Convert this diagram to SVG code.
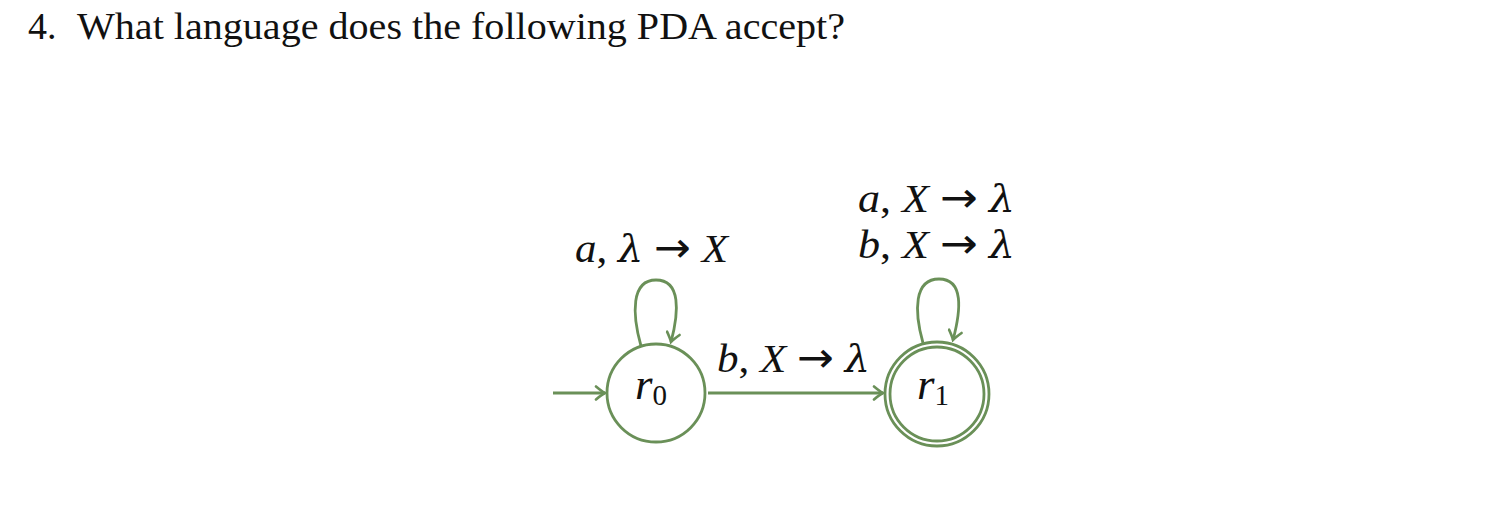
<svg xmlns="http://www.w3.org/2000/svg" width="1487" height="505" viewBox="0 0 1487 505">
<style>
.title{font-family:"Liberation Serif","Times New Roman",serif;font-size:38px;fill:#111}
.lbl{font-family:"Liberation Serif","DejaVu Serif",serif;font-size:41px;fill:#111}
.it{font-style:italic}
.ar{font-family:"DejaVu Sans",sans-serif;font-size:42px;font-style:normal}
.lam{font-family:"DejaVu Serif",serif;font-style:italic;font-size:38px}
.st{fill:#fff;stroke:#6a9058;stroke-width:2.8}
.edge{fill:none;stroke:#6a9058;stroke-width:2.8}
.sn{font-size:45px}
.sub{font-size:29px;font-style:normal}
</style>
<defs>
<marker id="ah" viewBox="-12 -8 14 16" markerWidth="14" markerHeight="16" refX="0" refY="0" orient="auto" markerUnits="userSpaceOnUse">
<path d="M -9,-6.5 Q -3,-1.5 0,0 Q -3,1.5 -9,6.5" fill="none" stroke="#6a9058" stroke-width="2.6" stroke-linecap="round"/>
</marker>
</defs>
<rect width="1487" height="505" fill="#fff"/>
<text class="title" x="28" y="39">4.</text>
<text class="title" x="77" y="39" textLength="768" lengthAdjust="spacingAndGlyphs">What language does the following PDA accept?</text>
<g id="connectors">
<path class="edge" d="M 553,393 L 605,393" marker-end="url(#ah)"/>
<path class="edge" d="M 708,393 L 883,393" marker-end="url(#ah)"/>
<path class="edge" d="M 641,346 C 632,314 631,280 656,280 C 681,280 679,312 671,342" marker-end="url(#ah)"/>
<path class="edge" d="M 923,343 C 914,311 914,279 939,279 C 964,279 961,310 953,340" marker-end="url(#ah)"/>
<text class="lbl" x="575" y="262" textLength="153" lengthAdjust="spacingAndGlyphs"><tspan class="it">a</tspan>, <tspan class="lam">λ</tspan> <tspan class="ar">→</tspan> <tspan class="it">X</tspan></text>
<text class="lbl" x="858" y="212" textLength="157" lengthAdjust="spacingAndGlyphs"><tspan class="it">a</tspan>, <tspan class="it">X</tspan> <tspan class="ar">→</tspan> <tspan class="lam">λ</tspan></text>
<text class="lbl" x="858" y="258" textLength="157" lengthAdjust="spacingAndGlyphs"><tspan class="it">b</tspan>, <tspan class="it">X</tspan> <tspan class="ar">→</tspan> <tspan class="lam">λ</tspan></text>
<text class="lbl" x="717" y="372" textLength="153" lengthAdjust="spacingAndGlyphs"><tspan class="it">b</tspan>, <tspan class="it">X</tspan> <tspan class="ar">→</tspan> <tspan class="lam">λ</tspan></text>
</g>
<g id="r0">
<circle class="st" cx="656" cy="393" r="49"/>
<text class="lbl it sn" x="635" y="399">r<tspan class="sub" dy="6">0</tspan></text>
</g>
<g id="r1">
<circle class="st" cx="937" cy="394" r="52"/>
<circle class="st" cx="937" cy="394" r="47"/>
<text class="lbl it sn" x="917" y="399">r<tspan class="sub" dy="6">1</tspan></text>
</g>
</svg>
